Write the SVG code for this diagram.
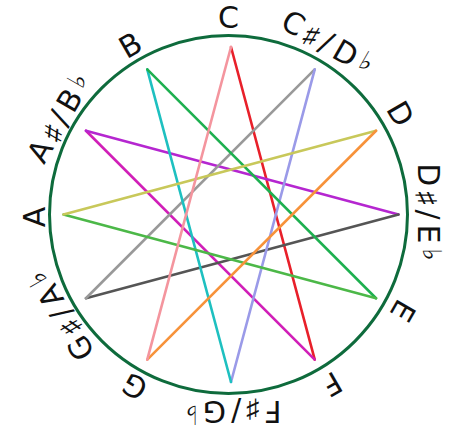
<svg xmlns="http://www.w3.org/2000/svg" width="474" height="432" viewBox="0 0 474 432">
<style>
.lbl{font-family:"DejaVu Sans","Liberation Sans",sans-serif;font-size:30px;fill:#111;text-anchor:middle;letter-spacing:5px}
.sh{font-size:26px;font-weight:300}
.fl{font-size:26px}
.ln{stroke-width:2.6;fill:none;stroke-linecap:round}
</style>
<rect width="474" height="432" fill="#fff"/>
<g id="ring"><circle cx="228.5" cy="214.5" r="179" fill="none" stroke="#0e6b3c" stroke-width="3"/></g>
<g id="connectors">
<line class="ln" x1="231" y1="47" x2="314.75" y2="359.56" stroke="#e8202a"/>
<line class="ln" x1="314.75" y1="359.56" x2="85.94" y2="130.75" stroke="#d11fb8"/>
<line class="ln" x1="85.94" y1="130.75" x2="398.5" y2="214.5" stroke="#b526d0"/>
<line class="ln" x1="398.5" y1="214.5" x2="85.94" y2="298.25" stroke="#555555"/>
<line class="ln" x1="85.94" y1="298.25" x2="314.75" y2="69.44" stroke="#999999"/>
<line class="ln" x1="314.75" y1="69.44" x2="231" y2="382" stroke="#9a9ae8"/>
<line class="ln" x1="231" y1="382" x2="147.25" y2="69.44" stroke="#1ec0c0"/>
<line class="ln" x1="147.25" y1="69.44" x2="376.06" y2="298.25" stroke="#1eb050"/>
<line class="ln" x1="376.06" y1="298.25" x2="63.5" y2="214.5" stroke="#4cb848"/>
<line class="ln" x1="63.5" y1="214.5" x2="376.06" y2="130.75" stroke="#c8c85a"/>
<line class="ln" x1="376.06" y1="130.75" x2="147.25" y2="359.56" stroke="#f7923a"/>
<line class="ln" x1="147.25" y1="359.56" x2="231" y2="47" stroke="#f4959e"/>
</g>
<g id="n-C"><text class="lbl" x="231" y="28" transform="rotate(0 231 214.5)">C</text></g>
<g id="n-Cs"><text class="lbl" x="231" y="28" transform="rotate(30 231 214.5)">C<tspan class="sh">♯</tspan>/D<tspan class="fl" dy="-5">♭</tspan></text></g>
<g id="n-D"><text class="lbl" x="231" y="28" transform="rotate(60 231 214.5)">D</text></g>
<g id="n-Ds"><text class="lbl" x="231" y="28" transform="rotate(90 231 214.5)">D<tspan class="sh">♯</tspan>/E<tspan class="fl" dy="-5">♭</tspan></text></g>
<g id="n-E"><text class="lbl" x="231" y="28" transform="rotate(120 231 214.5)">E</text></g>
<g id="n-F"><text class="lbl" x="231" y="28" transform="rotate(150 231 214.5)">F</text></g>
<g id="n-Fs"><text class="lbl" x="231" y="28" transform="rotate(180 231 214.5)">F<tspan class="sh">♯</tspan>/G<tspan class="fl" dy="-5">♭</tspan></text></g>
<g id="n-G"><text class="lbl" x="231" y="28" transform="rotate(210 231 214.5)">G</text></g>
<g id="n-Gs"><text class="lbl" x="231" y="28" transform="rotate(240 231 214.5)">G<tspan class="sh">♯</tspan>/A<tspan class="fl" dy="-5">♭</tspan></text></g>
<g id="n-A"><text class="lbl" x="231" y="28" transform="rotate(270 231 214.5)">A</text></g>
<g id="n-As"><text class="lbl" x="231" y="28" transform="rotate(300 231 214.5)">A<tspan class="sh">♯</tspan>/B<tspan class="fl" dy="-5">♭</tspan></text></g>
<g id="n-B"><text class="lbl" x="231" y="28" transform="rotate(330 231 214.5)">B</text></g>
</svg>
